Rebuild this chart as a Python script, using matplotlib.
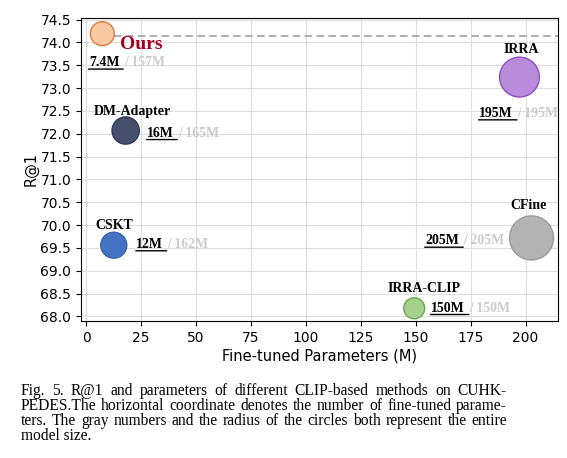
import numpy as np
import matplotlib
matplotlib.use('Agg')
import matplotlib.pyplot as plt

# 数据
methods = ['Ours', 'DM-Adapter', 'CSKT', 'IRRA', 'CFine', 'IRRA-CLIP']
tuned_x = [7.4, 18.0, 12.6, 197.2, 202.7, 149.3]        # 圆心横坐标 (M)
r1 = [74.19, 72.07, 69.56, 73.24, 69.72, 68.18]          # R@1
tuned_lbl = ['7.4M', '16M', '12M', '195M', '205M', '150M']
total_lbl = ['157M', '165M', '162M', '195M', '205M', '150M']
total_size = [157, 165, 162, 195, 205, 150]
best_line = 74.13

face = ['#f9c9a4', '#44506c', '#4472c4', '#b98cdb', '#b3b3b3', '#a6d18c']
edge = ['#e07b39', '#2f3c57', '#3a62ad', '#8a52c0', '#9a9a9a', '#6aa84f']

# 标签偏移 (points)
name_off = [(13, -8), (5, 14), (0, 14), (1, 20), (-2, 23.5), (7, 14)]
num_off = [(-9.6, -21), (15.5, -2), (16.3, 0.5), (-29, -26.3), (-76.5, -2.2), (12.2, 0)]

serif = 'Liberation Serif'

fig = plt.figure(figsize=(5.67, 4.58), dpi=100)
ax = fig.add_axes([0.1429, 0.299, 0.8411, 0.6624])

ax.set_xlim(-2.3, 214.7)
ax.set_ylim(67.9, 74.54)
ax.set_xticks(np.arange(0, 201, 25))
ax.set_yticks(np.arange(68.0, 74.51, 0.5))
ax.yaxis.set_major_formatter(matplotlib.ticker.FormatStrFormatter('%.1f'))
ax.grid(True, color='#dddddd', lw=0.8, zorder=0)
ax.set_axisbelow(True)
ax.tick_params(labelsize=10, length=3.5)
ax.set_xlabel('Fine-tuned Parameters (M)', fontsize=10.5, labelpad=3)
ax.set_ylabel('R@1', fontsize=10.5, labelpad=1.5)

ax.plot([tuned_x[0], 214.7], [best_line, best_line], ls=(0, (5, 2.8)), color='#999999', lw=1.1, zorder=1)

sizes = [(0.302 * (s - 100)) ** 2 for s in total_size]
ax.scatter(tuned_x, r1, s=sizes, c=face, edgecolors=edge, linewidths=1.0, zorder=3)

for i, m in enumerate(methods):
    if m == 'Ours':
        ax.annotate(m, (tuned_x[i], r1[i]), xytext=name_off[i], textcoords='offset points',
                    ha='left', va='center', fontsize=14, fontweight='bold', family=serif, color='#a3001e')
    else:
        ax.annotate(m, (tuned_x[i], r1[i]), xytext=name_off[i], textcoords='offset points',
                    ha='center', va='center', fontsize=10, fontweight='bold', family=serif, color='black')
    t = ax.annotate(tuned_lbl[i], (tuned_x[i], r1[i]), xytext=num_off[i], textcoords='offset points',
                    ha='left', va='center', fontsize=10, fontweight='bold', family=serif, color='black')
    ax.annotate('', xy=(-0.02, 0.02), xycoords=t, xytext=(1.12, 0.02), textcoords=t,
                arrowprops=dict(arrowstyle='-', color='black', lw=1.0, shrinkA=0, shrinkB=0))
    ax.annotate('/ ' + total_lbl[i], xy=(1, 0), xycoords=t, xytext=(3, 0), textcoords='offset points',
                ha='left', va='bottom', fontsize=10, fontweight='bold', family=serif, color='#cccccc')

# 图注（两端对齐）
caption = ['Fig. 5.  R@1 and parameters of different CLIP-based methods on CUHK-',
           'PEDES.The horizontal coordinate denotes the number of fine-tuned parame-',
           'ters. The gray numbers and the radius of the circles both represent the entire',
           'model size.']
W, H = 567, 458
x0, x1 = 20.7, 507
ys = [395, 410, 425, 439.5]
fs = 11.2
r = fig.canvas.get_renderer()
for k, line in enumerate(caption):
    if k == len(caption) - 1:
        fig.text(x0 / W, 1 - ys[k] / H, line, family=serif, fontsize=fs, va='baseline')
        continue
    words = line.replace('Fig. 5.', 'Fig.\u00a05.').split()
    arts = [fig.text(0, 1 - ys[k] / H, w, family=serif, fontsize=fs, va='baseline') for w in words]
    widths = [a.get_window_extent(r).width for a in arts]
    gap = (x1 - x0 - sum(widths)) / (len(words) - 1)
    x = x0
    for a, w in zip(arts, widths):
        a.set_x(x / W)
        x += w + gap

fig.savefig('out.png', dpi=100)
